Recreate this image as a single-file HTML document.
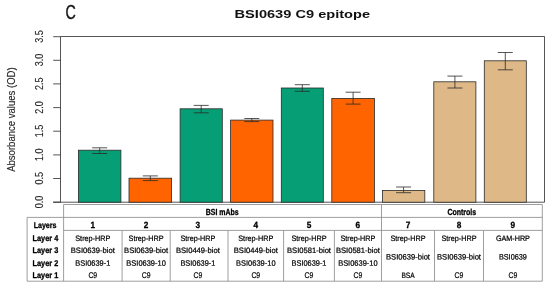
<!DOCTYPE html>
<html lang="en"><head><meta charset="utf-8"><title>BSI0639 C9 epitope</title>
<style>
html,body{margin:0;padding:0;background:#fff;}
body{width:550px;height:287px;overflow:hidden;}
svg text{font-family:"Liberation Sans",sans-serif;}
</style></head><body>
<svg width="550" height="287" viewBox="0 0 550 287" style="display:block">
<rect width="550" height="287" fill="#fff"/>
<path d="M53.2 202.2 H544.5 V36.5 H60.5 V202.2" fill="none" stroke="#2a2a2a" stroke-width="0.8"/>
<line x1="53.2" x2="60.5" y1="202.2" y2="202.2" stroke="#2a2a2a" stroke-width="0.8"/>
<text transform="translate(43.4,202.0) scale(1.25,1) rotate(-90)" text-anchor="middle" font-size="9" fill="#2a2a2a" stroke="#2a2a2a" stroke-width="0.12" class="ax">0.0</text>
<line x1="53.2" x2="60.5" y1="178.5" y2="178.5" stroke="#2a2a2a" stroke-width="0.8"/>
<text transform="translate(43.4,178.3) scale(1.25,1) rotate(-90)" text-anchor="middle" font-size="9" fill="#2a2a2a" stroke="#2a2a2a" stroke-width="0.12" class="ax">0.5</text>
<line x1="53.2" x2="60.5" y1="154.9" y2="154.9" stroke="#2a2a2a" stroke-width="0.8"/>
<text transform="translate(43.4,154.7) scale(1.25,1) rotate(-90)" text-anchor="middle" font-size="9" fill="#2a2a2a" stroke="#2a2a2a" stroke-width="0.12" class="ax">1.0</text>
<line x1="53.2" x2="60.5" y1="131.2" y2="131.2" stroke="#2a2a2a" stroke-width="0.8"/>
<text transform="translate(43.4,131.1) scale(1.25,1) rotate(-90)" text-anchor="middle" font-size="9" fill="#2a2a2a" stroke="#2a2a2a" stroke-width="0.12" class="ax">1.5</text>
<line x1="53.2" x2="60.5" y1="107.6" y2="107.6" stroke="#2a2a2a" stroke-width="0.8"/>
<text transform="translate(43.4,107.4) scale(1.25,1) rotate(-90)" text-anchor="middle" font-size="9" fill="#2a2a2a" stroke="#2a2a2a" stroke-width="0.12" class="ax">2.0</text>
<line x1="53.2" x2="60.5" y1="83.9" y2="83.9" stroke="#2a2a2a" stroke-width="0.8"/>
<text transform="translate(43.4,83.7) scale(1.25,1) rotate(-90)" text-anchor="middle" font-size="9" fill="#2a2a2a" stroke="#2a2a2a" stroke-width="0.12" class="ax">2.5</text>
<line x1="53.2" x2="60.5" y1="60.3" y2="60.3" stroke="#2a2a2a" stroke-width="0.8"/>
<text transform="translate(43.4,60.1) scale(1.25,1) rotate(-90)" text-anchor="middle" font-size="9" fill="#2a2a2a" stroke="#2a2a2a" stroke-width="0.12" class="ax">3.0</text>
<line x1="53.2" x2="60.5" y1="36.7" y2="36.7" stroke="#2a2a2a" stroke-width="0.8"/>
<text transform="translate(43.4,36.5) scale(1.25,1) rotate(-90)" text-anchor="middle" font-size="9" fill="#2a2a2a" stroke="#2a2a2a" stroke-width="0.12" class="ax">3.5</text>
<text transform="translate(15.0,119.6) scale(1.24,1) rotate(-90)" text-anchor="middle" font-size="9.55" fill="#2a2a2a" stroke="#2a2a2a" stroke-width="0.12" class="ax">Absorbance values (OD)</text>
<text x="302.3" y="17.8" text-anchor="middle" font-size="10.6" font-weight="bold" fill="#111" class="ax" textLength="135.5" lengthAdjust="spacingAndGlyphs">BSI0639 C9 epitope</text>
<text x="65.6" y="19.0" font-size="19.5" fill="#111" stroke="#111" stroke-width="0.35" class="ax" textLength="10.3" lengthAdjust="spacingAndGlyphs">C</text>
<rect x="78.4" y="150.2" width="42.5" height="52.0" fill="#069e74" stroke="#2a2a2a" stroke-width="0.8"/>
<path d="M99.7 147.8 V153.5 M92.2 147.8 h15 M92.2 153.5 h15" fill="none" stroke="#2a2a2a" stroke-width="0.8"/>
<rect x="129.0" y="178.2" width="42.6" height="24.0" fill="#ff6400" stroke="#2a2a2a" stroke-width="0.8"/>
<path d="M150.3 175.9 V180.6 M142.8 175.9 h15 M142.8 180.6 h15" fill="none" stroke="#2a2a2a" stroke-width="0.8"/>
<rect x="180.1" y="108.8" width="42.2" height="93.4" fill="#069e74" stroke="#2a2a2a" stroke-width="0.8"/>
<path d="M201.2 105.4 V112.8 M193.7 105.4 h15 M193.7 112.8 h15" fill="none" stroke="#2a2a2a" stroke-width="0.8"/>
<rect x="230.6" y="120.1" width="42.4" height="82.1" fill="#ff6400" stroke="#2a2a2a" stroke-width="0.8"/>
<path d="M251.8 118.5 V121.6 M244.3 118.5 h15 M244.3 121.6 h15" fill="none" stroke="#2a2a2a" stroke-width="0.8"/>
<rect x="281.3" y="88.0" width="42.0" height="114.2" fill="#069e74" stroke="#2a2a2a" stroke-width="0.8"/>
<path d="M302.3 84.7 V91.3 M294.8 84.7 h15 M294.8 91.3 h15" fill="none" stroke="#2a2a2a" stroke-width="0.8"/>
<rect x="331.8" y="98.4" width="42.6" height="103.8" fill="#ff6400" stroke="#2a2a2a" stroke-width="0.8"/>
<path d="M353.1 92.2 V104.1 M345.6 92.2 h15 M345.6 104.1 h15" fill="none" stroke="#2a2a2a" stroke-width="0.8"/>
<rect x="382.5" y="190.4" width="42.3" height="11.8" fill="#deb887" stroke="#2a2a2a" stroke-width="0.8"/>
<path d="M403.6 187.0 V192.7 M396.1 187.0 h15 M396.1 192.7 h15" fill="none" stroke="#2a2a2a" stroke-width="0.8"/>
<rect x="433.8" y="81.8" width="42.1" height="120.4" fill="#deb887" stroke="#2a2a2a" stroke-width="0.8"/>
<path d="M454.9 76.1 V88.0 M447.4 76.1 h15 M447.4 88.0 h15" fill="none" stroke="#2a2a2a" stroke-width="0.8"/>
<rect x="484.3" y="60.8" width="42.0" height="141.4" fill="#deb887" stroke="#2a2a2a" stroke-width="0.8"/>
<path d="M505.3 52.5 V69.8 M497.8 52.5 h15 M497.8 69.8 h15" fill="none" stroke="#2a2a2a" stroke-width="0.8"/>
<g stroke="#939393" stroke-width="0.9" fill="none">
<path d="M63.6 204.5 H542.3 V281.2 H27.1 V217.4 H542.3 M63.6 230.4 H542.3 M63.6 204.5 V281.2 M381.5 204.5 V281.2"/>
<path d="M122.1 230.4 V281.2"/>
<path d="M170.2 230.4 V281.2"/>
<path d="M228.0 230.4 V281.2"/>
<path d="M283.6 230.4 V281.2"/>
<path d="M334.4 230.4 V281.2"/>
<path d="M434.5 230.4 V281.2"/>
<path d="M483.5 230.4 V281.2"/>
</g>
<text x="45.1" y="228.3" transform="rotate(0.03 45.1 228.3)" text-anchor="middle" font-size="8.3" fill="#000" class="tb" font-weight="bold" stroke="#000" stroke-width="0.3" textLength="22.8" lengthAdjust="spacingAndGlyphs">Layers</text>
<text x="45.4" y="240.7" transform="rotate(0.03 45.4 240.7)" text-anchor="middle" font-size="8.3" fill="#000" class="tb" font-weight="bold" stroke="#000" stroke-width="0.3" textLength="25.6" lengthAdjust="spacingAndGlyphs">Layer 4</text>
<text x="45.4" y="253.1" transform="rotate(0.03 45.4 253.1)" text-anchor="middle" font-size="8.3" fill="#000" class="tb" font-weight="bold" stroke="#000" stroke-width="0.3" textLength="25.6" lengthAdjust="spacingAndGlyphs">Layer 3</text>
<text x="45.4" y="265.7" transform="rotate(0.03 45.4 265.7)" text-anchor="middle" font-size="8.3" fill="#000" class="tb" font-weight="bold" stroke="#000" stroke-width="0.3" textLength="25.6" lengthAdjust="spacingAndGlyphs">Layer 2</text>
<text x="45.4" y="278.0" transform="rotate(0.03 45.4 278.0)" text-anchor="middle" font-size="8.3" fill="#000" class="tb" font-weight="bold" stroke="#000" stroke-width="0.3" textLength="25.6" lengthAdjust="spacingAndGlyphs">Layer 1</text>
<text x="222.2" y="214.8" transform="rotate(0.03 222.2 214.8)" text-anchor="middle" font-size="8.8" fill="#000" class="tb" font-weight="bold" stroke="#000" stroke-width="0.3" textLength="32.8" lengthAdjust="spacingAndGlyphs">BSI mAbs</text>
<text x="461.8" y="214.8" transform="rotate(0.03 461.8 214.8)" text-anchor="middle" font-size="8.8" fill="#000" class="tb" font-weight="bold" stroke="#000" stroke-width="0.3" textLength="28.8" lengthAdjust="spacingAndGlyphs">Controls</text>
<text x="92.8" y="228.0" transform="rotate(0.03 92.8 228.0)" text-anchor="middle" font-size="9" fill="#000" class="tb" font-weight="bold" stroke="#000" stroke-width="0.3" textLength="4.6" lengthAdjust="spacingAndGlyphs">1</text>
<text x="146.1" y="228.0" transform="rotate(0.03 146.1 228.0)" text-anchor="middle" font-size="9" fill="#000" class="tb" font-weight="bold" stroke="#000" stroke-width="0.3" textLength="4.6" lengthAdjust="spacingAndGlyphs">2</text>
<text x="197.7" y="228.0" transform="rotate(0.03 197.7 228.0)" text-anchor="middle" font-size="9" fill="#000" class="tb" font-weight="bold" stroke="#000" stroke-width="0.3" textLength="4.6" lengthAdjust="spacingAndGlyphs">3</text>
<text x="255.8" y="228.0" transform="rotate(0.03 255.8 228.0)" text-anchor="middle" font-size="9" fill="#000" class="tb" font-weight="bold" stroke="#000" stroke-width="0.3" textLength="4.6" lengthAdjust="spacingAndGlyphs">4</text>
<text x="309.0" y="228.0" transform="rotate(0.03 309.0 228.0)" text-anchor="middle" font-size="9" fill="#000" class="tb" font-weight="bold" stroke="#000" stroke-width="0.3" textLength="4.6" lengthAdjust="spacingAndGlyphs">5</text>
<text x="357.9" y="228.0" transform="rotate(0.03 357.9 228.0)" text-anchor="middle" font-size="9" fill="#000" class="tb" font-weight="bold" stroke="#000" stroke-width="0.3" textLength="4.6" lengthAdjust="spacingAndGlyphs">6</text>
<text x="408.0" y="228.0" transform="rotate(0.03 408.0 228.0)" text-anchor="middle" font-size="9" fill="#000" class="tb" font-weight="bold" stroke="#000" stroke-width="0.3" textLength="4.6" lengthAdjust="spacingAndGlyphs">7</text>
<text x="459.0" y="228.0" transform="rotate(0.03 459.0 228.0)" text-anchor="middle" font-size="9" fill="#000" class="tb" font-weight="bold" stroke="#000" stroke-width="0.3" textLength="4.6" lengthAdjust="spacingAndGlyphs">8</text>
<text x="512.9" y="228.0" transform="rotate(0.03 512.9 228.0)" text-anchor="middle" font-size="9" fill="#000" class="tb" font-weight="bold" stroke="#000" stroke-width="0.3" textLength="4.6" lengthAdjust="spacingAndGlyphs">9</text>
<text x="92.8" y="240.7" transform="rotate(0.03 92.8 240.7)" text-anchor="middle" font-size="7.8" fill="#000" class="tb" stroke="#000" stroke-width="0.22" textLength="35" lengthAdjust="spacingAndGlyphs">Strep-HRP</text>
<text x="92.8" y="253.1" transform="rotate(0.03 92.8 253.1)" text-anchor="middle" font-size="7.8" fill="#000" class="tb" stroke="#000" stroke-width="0.22" textLength="44" lengthAdjust="spacingAndGlyphs">BSI0639-biot</text>
<text x="92.8" y="265.7" transform="rotate(0.03 92.8 265.7)" text-anchor="middle" font-size="7.8" fill="#000" class="tb" stroke="#000" stroke-width="0.22" textLength="35" lengthAdjust="spacingAndGlyphs">BSI0639-1</text>
<text x="92.8" y="278.0" transform="rotate(0.03 92.8 278.0)" text-anchor="middle" font-size="8.3" fill="#000" class="tb" stroke="#000" stroke-width="0.22" textLength="8.8" lengthAdjust="spacingAndGlyphs">C9</text>
<text x="146.1" y="240.7" transform="rotate(0.03 146.1 240.7)" text-anchor="middle" font-size="7.8" fill="#000" class="tb" stroke="#000" stroke-width="0.22" textLength="35" lengthAdjust="spacingAndGlyphs">Strep-HRP</text>
<text x="146.1" y="253.1" transform="rotate(0.03 146.1 253.1)" text-anchor="middle" font-size="7.8" fill="#000" class="tb" stroke="#000" stroke-width="0.22" textLength="44" lengthAdjust="spacingAndGlyphs">BSI0639-biot</text>
<text x="146.1" y="265.7" transform="rotate(0.03 146.1 265.7)" text-anchor="middle" font-size="7.8" fill="#000" class="tb" stroke="#000" stroke-width="0.22" textLength="39.5" lengthAdjust="spacingAndGlyphs">BSI0639-10</text>
<text x="146.1" y="278.0" transform="rotate(0.03 146.1 278.0)" text-anchor="middle" font-size="8.3" fill="#000" class="tb" stroke="#000" stroke-width="0.22" textLength="8.8" lengthAdjust="spacingAndGlyphs">C9</text>
<text x="197.9" y="240.7" transform="rotate(0.03 197.9 240.7)" text-anchor="middle" font-size="7.8" fill="#000" class="tb" stroke="#000" stroke-width="0.22" textLength="35" lengthAdjust="spacingAndGlyphs">Strep-HRP</text>
<text x="197.9" y="253.1" transform="rotate(0.03 197.9 253.1)" text-anchor="middle" font-size="7.8" fill="#000" class="tb" stroke="#000" stroke-width="0.22" textLength="44" lengthAdjust="spacingAndGlyphs">BSI0449-biot</text>
<text x="197.9" y="265.7" transform="rotate(0.03 197.9 265.7)" text-anchor="middle" font-size="7.8" fill="#000" class="tb" stroke="#000" stroke-width="0.22" textLength="35" lengthAdjust="spacingAndGlyphs">BSI0639-1</text>
<text x="197.9" y="278.0" transform="rotate(0.03 197.9 278.0)" text-anchor="middle" font-size="8.3" fill="#000" class="tb" stroke="#000" stroke-width="0.22" textLength="8.8" lengthAdjust="spacingAndGlyphs">C9</text>
<text x="255.8" y="240.7" transform="rotate(0.03 255.8 240.7)" text-anchor="middle" font-size="7.8" fill="#000" class="tb" stroke="#000" stroke-width="0.22" textLength="35" lengthAdjust="spacingAndGlyphs">Strep-HRP</text>
<text x="255.8" y="253.1" transform="rotate(0.03 255.8 253.1)" text-anchor="middle" font-size="7.8" fill="#000" class="tb" stroke="#000" stroke-width="0.22" textLength="44" lengthAdjust="spacingAndGlyphs">BSI0449-biot</text>
<text x="255.8" y="265.7" transform="rotate(0.03 255.8 265.7)" text-anchor="middle" font-size="7.8" fill="#000" class="tb" stroke="#000" stroke-width="0.22" textLength="39.5" lengthAdjust="spacingAndGlyphs">BSI0639-10</text>
<text x="255.8" y="278.0" transform="rotate(0.03 255.8 278.0)" text-anchor="middle" font-size="8.3" fill="#000" class="tb" stroke="#000" stroke-width="0.22" textLength="8.8" lengthAdjust="spacingAndGlyphs">C9</text>
<text x="309.0" y="240.7" transform="rotate(0.03 309.0 240.7)" text-anchor="middle" font-size="7.8" fill="#000" class="tb" stroke="#000" stroke-width="0.22" textLength="35" lengthAdjust="spacingAndGlyphs">Strep-HRP</text>
<text x="309.0" y="253.1" transform="rotate(0.03 309.0 253.1)" text-anchor="middle" font-size="7.8" fill="#000" class="tb" stroke="#000" stroke-width="0.22" textLength="44" lengthAdjust="spacingAndGlyphs">BSI0581-biot</text>
<text x="309.0" y="265.7" transform="rotate(0.03 309.0 265.7)" text-anchor="middle" font-size="7.8" fill="#000" class="tb" stroke="#000" stroke-width="0.22" textLength="35" lengthAdjust="spacingAndGlyphs">BSI0639-1</text>
<text x="309.0" y="278.0" transform="rotate(0.03 309.0 278.0)" text-anchor="middle" font-size="8.3" fill="#000" class="tb" stroke="#000" stroke-width="0.22" textLength="8.8" lengthAdjust="spacingAndGlyphs">C9</text>
<text x="357.9" y="240.7" transform="rotate(0.03 357.9 240.7)" text-anchor="middle" font-size="7.8" fill="#000" class="tb" stroke="#000" stroke-width="0.22" textLength="35" lengthAdjust="spacingAndGlyphs">Strep-HRP</text>
<text x="357.9" y="253.1" transform="rotate(0.03 357.9 253.1)" text-anchor="middle" font-size="7.8" fill="#000" class="tb" stroke="#000" stroke-width="0.22" textLength="44" lengthAdjust="spacingAndGlyphs">BSI0581-biot</text>
<text x="357.9" y="265.7" transform="rotate(0.03 357.9 265.7)" text-anchor="middle" font-size="7.8" fill="#000" class="tb" stroke="#000" stroke-width="0.22" textLength="39.5" lengthAdjust="spacingAndGlyphs">BSI0639-10</text>
<text x="357.9" y="278.0" transform="rotate(0.03 357.9 278.0)" text-anchor="middle" font-size="8.3" fill="#000" class="tb" stroke="#000" stroke-width="0.22" textLength="8.8" lengthAdjust="spacingAndGlyphs">C9</text>
<text x="408.0" y="240.7" transform="rotate(0.03 408.0 240.7)" text-anchor="middle" font-size="7.8" fill="#000" class="tb" stroke="#000" stroke-width="0.22" textLength="35" lengthAdjust="spacingAndGlyphs">Strep-HRP</text>
<text x="408.0" y="259.4" transform="rotate(0.03 408.0 259.4)" text-anchor="middle" font-size="7.8" fill="#000" class="tb" stroke="#000" stroke-width="0.22" textLength="44" lengthAdjust="spacingAndGlyphs">BSI0639-biot</text>
<text x="408.0" y="278.0" transform="rotate(0.03 408.0 278.0)" text-anchor="middle" font-size="7.8" fill="#000" class="tb" stroke="#000" stroke-width="0.22" textLength="13.2" lengthAdjust="spacingAndGlyphs">BSA</text>
<text x="459.0" y="240.7" transform="rotate(0.03 459.0 240.7)" text-anchor="middle" font-size="7.8" fill="#000" class="tb" stroke="#000" stroke-width="0.22" textLength="35" lengthAdjust="spacingAndGlyphs">Strep-HRP</text>
<text x="459.0" y="259.4" transform="rotate(0.03 459.0 259.4)" text-anchor="middle" font-size="7.8" fill="#000" class="tb" stroke="#000" stroke-width="0.22" textLength="44" lengthAdjust="spacingAndGlyphs">BSI0639-biot</text>
<text x="459.0" y="278.0" transform="rotate(0.03 459.0 278.0)" text-anchor="middle" font-size="8.3" fill="#000" class="tb" stroke="#000" stroke-width="0.22" textLength="8.8" lengthAdjust="spacingAndGlyphs">C9</text>
<text x="512.9" y="240.7" transform="rotate(0.03 512.9 240.7)" text-anchor="middle" font-size="7.8" fill="#000" class="tb" stroke="#000" stroke-width="0.22" textLength="34" lengthAdjust="spacingAndGlyphs">GAM-HRP</text>
<text x="512.9" y="259.4" transform="rotate(0.03 512.9 259.4)" text-anchor="middle" font-size="7.8" fill="#000" class="tb" stroke="#000" stroke-width="0.22" textLength="28" lengthAdjust="spacingAndGlyphs">BSI0639</text>
<text x="512.9" y="278.0" transform="rotate(0.03 512.9 278.0)" text-anchor="middle" font-size="8.3" fill="#000" class="tb" stroke="#000" stroke-width="0.22" textLength="8.8" lengthAdjust="spacingAndGlyphs">C9</text>
</svg>
</body></html>
